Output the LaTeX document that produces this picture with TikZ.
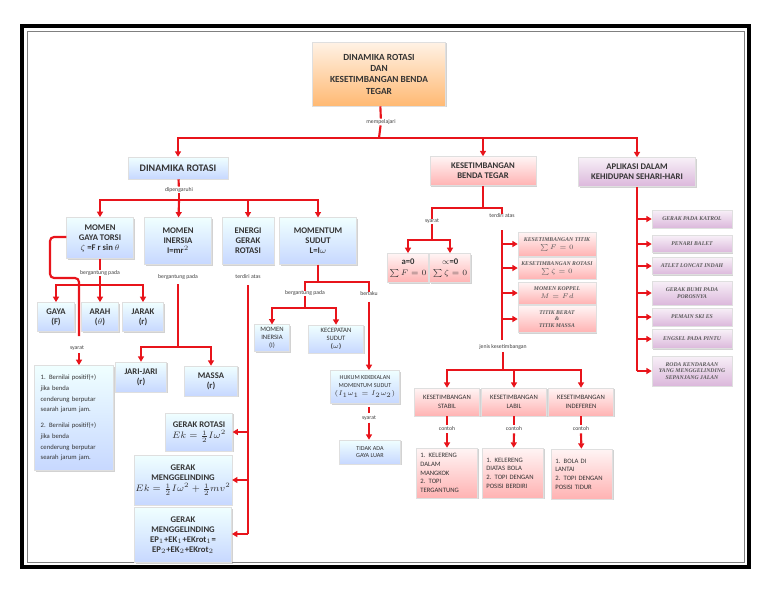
\documentclass[tikz,border=0pt]{standalone}
\usepackage{amsmath}
\usepackage{fontspec}
\setmainfont{Carlito}
\newfontfamily\srf{Liberation Serif}
\usetikzlibrary{arrows.meta,shadows}
\definecolor{rl}{HTML}{E8141B}
\newcommand{\mf}[1]{\normalfont\fontsize{#1}{#1}\selectfont}
\tikzset{
 bb/.style={draw=white!75!gray,line width=0.4pt,align=center,inner sep=1pt,drop shadow={shadow xshift=1pt,shadow yshift=-1pt,opacity=0.35},font=\fontsize{6.5}{7.5}\selectfont\bfseries,text=black!80},
 blue/.style={bb,top color=cyan!6!white,bottom color=cyan!30!blue!22!white},
 pink/.style={bb,top color=red!4!white,bottom color=red!30!white},
 purp/.style={bb,top color=violet!6!white,bottom color=violet!28!white,font=\srf\fontsize{4.3}{5}\selectfont\bfseries\itshape,text=black!65},
 orng/.style={bb,top color=orange!10!white,bottom color=orange!55!white,font=\fontsize{7}{8.5}\selectfont\bfseries},
 lab/.style={font=\fontsize{4.3}{5}\selectfont,text=black!75,inner sep=0.5pt},
 ln/.style={draw=rl,line width=1.6pt},
 ar/.style={ln,-{Triangle[length=4pt,width=4.5pt]}},
}
\begin{document}
\begin{tikzpicture}[x=0.75pt,y=-0.75pt]
\useasboundingbox (0,0) rectangle (768,594);
\fill[white] (0,0) rectangle (768,594);
\draw[line width=2.4pt] (22,26) rectangle (749,567);
\draw[line width=0.5pt,gray] (27,31) rectangle (744,562);
% top
\node[orng,minimum width=100pt,minimum height=48pt] (top) at (379,74) {DINAMIKA ROTASI\\DAN\\KESETIMBANGAN BENDA\\TEGAR};
\node[lab] (mp) at (381,122) {mempelajari};
\node[blue,minimum width=75pt,minimum height=16.5pt,font=\fontsize{7.5}{9}\selectfont\bfseries] (dr) at (178,168) {DINAMIKA ROTASI};
\node[pink,minimum width=79.5pt,minimum height=21.75pt] (kbt) at (483,171) {KESETIMBANGAN\\BENDA TEGAR};
\node[bb,top color=violet!6!white,bottom color=violet!28!white,minimum width=87.75pt,minimum height=21.75pt] (apl) at (637,172) {APLIKASI DALAM\\KEHIDUPAN SEHARI-HARI};
\coordinate (j0) at (379,138);
\draw[ln] (top) -- (mp);
\draw[ln] (mp) -- (j0);
\draw[ar] (j0) -| (dr);
\draw[ar] (j0) -| (kbt);
\draw[ar] (j0) -| (apl);
% dinamika
\node[lab] (dp) at (179,190) {dipengaruhi};
\node[blue,minimum width=50pt,minimum height=31pt] (tor) at (100,238) {MOMEN\\GAYA TORSI\\$\zeta$ =F r sin$\,\theta$};
\node[blue,minimum width=50pt,minimum height=35pt] (ine) at (178,241) {MOMEN\\INERSIA\\I=mr$^2$};
\node[blue,minimum width=39pt,minimum height=35pt] (ene) at (248,241) {ENERGI\\GERAK\\ROTASI};
\node[blue,minimum width=58pt,minimum height=35pt] (mom) at (318,241) {MOMENTUM\\SUDUT\\L=I$\omega$};
\coordinate (j1) at (179,200);
\draw[ln] (dr) -- (dp);
\draw[ln] (dp) -- (j1);
\draw[ar] (j1) -| (tor);
\draw[ar] (j1) -- (ine);
\draw[ar] (j1) -| (ene);
\draw[ar] (j1) -| (mom);
% torsi
\node[lab] (bp1) at (100,273) {bergantung pada};
\node[blue,minimum width=28pt,minimum height=22pt] (gaya) at (56,317) {GAYA\\(F)};
\node[blue,minimum width=28pt,minimum height=22pt] (arah) at (100,317) {ARAH\\($\theta$)};
\node[blue,minimum width=31pt,minimum height=22pt] (jarak) at (143,317) {JARAK\\(r)};
\coordinate (j2) at (100,285);
\draw[ln] (tor) -- (bp1);
\draw[ln] (bp1) -- (j2);
\draw[ar] (j2) -| (gaya);
\draw[ar] (j2) -- (arah);
\draw[ar] (j2) -| (jarak);
\node[lab] (sy1) at (77,348) {syarat};
\node[blue,minimum width=59pt,minimum height=79pt,align=left,font=\fontsize{5}{8}\selectfont,text width=50pt] (syb) at (74,418) {1. Bernilai positif(+)\\jika benda\\cenderung berputar\\searah jarum jam.\\[4pt]2. Bernilai positif(+)\\jika benda\\cenderung berputar\\searah jarum jam.};
\coordinate (t1) at (50,237); \coordinate (t2) at (50,278);
\draw[ln,rounded corners=3pt] (tor.west|-t1) -- (t1) -- (t2) -- (79,278) -- (79,336);
\draw[ar] (sy1.south-|79,0) ++(0,2) -- (syb.north-|79,0);
% inersia
\node[lab] (bp2) at (178,277) {bergantung pada};
\node[blue,minimum width=38pt,minimum height=22.5pt] (jari) at (141,377) {JARI-JARI\\(r)};
\node[blue,minimum width=40pt,minimum height=22.5pt] (mas) at (211,381) {MASSA\\(r)};
\coordinate (j3) at (178,347);
\draw[ln] (bp2) ++(0,7) -- (j3);
\draw[ar] (j3) -| (jari);
\draw[ar] (j3) -| (mas);
% energi
\node[lab] (ta1) at (248,277) {terdiri atas};
\node[blue,minimum width=50pt,minimum height=28.5pt] (gr) at (199,432) {GERAK ROTASI\\[1pt]\mf{7}$Ek=\tfrac{1}{2}I\omega^2$};
\node[blue,minimum width=73pt,minimum height=37.5pt] (gm1) at (183,480) {GERAK\\MENGGELINDING\\[1pt]\mf{7}$Ek=\tfrac{1}{2}I\omega^2+\tfrac{1}{2}mv^2$};
\node[blue,minimum width=73pt,minimum height=41pt] (gm2) at (183,535) {GERAK\\MENGGELINDING\\EP$_1$+EK$_1$+EKrot$_1$=\\EP$_2$+EK$_2$+EKrot$_2$};
\coordinate (e1) at (248,285); \coordinate (e2) at (248,534);
\draw[ln] (e1) -- (e2);
\draw[ar] (gr.east-|e1) -- (gr.east);
\draw[ar] (gm1.east-|e1) -- (gm1.east);
\draw[ar] (e2) -- (gm2.east|-e2);
% momentum
\node[lab] (bp3) at (305,293) {bergantung pada};
\node[lab] (bl) at (369,294) {berlaku};
\coordinate (j4) at (318,282);
\draw[ln] (mom) -- (j4);
\draw[ln] (j4) -| ([yshift=-1pt]bp3.north);
\draw[ln] (j4) -| ([yshift=-1pt]bl.north);
\node[blue,minimum width=26pt,minimum height=20pt,font=\fontsize{5}{6}\selectfont] (mi) at (272,338) {MOMEN\\INERSIA\\(I)};
\node[blue,minimum width=41pt,minimum height=21pt,font=\fontsize{5}{6}\selectfont] (ks) at (336,339) {KECEPATAN\\SUDUT\\\textbf{($\omega$)}};
\coordinate (j5) at (305,308);
\draw[ln] (bp3) -- (j5);
\draw[ar] (j5) -| (mi);
\draw[ar] (j5) -| (ks);
\node[blue,minimum width=52pt,minimum height=25pt,font=\fontsize{4.6}{5.5}\selectfont] (hk) at (365,387) {HUKUM KEKEKALAN\\MOMENTUM SUDUT\\[1pt]\mf{5.5}$(I_1\omega_1=I_2\omega_2)$};
\draw[ar] (bl.south-|369,0) ++(0,5) -- (hk.north-|369,0);
\node[lab] (sy2) at (369,418) {syarat};
\node[blue,minimum width=46pt,minimum height=18pt,font=\fontsize{4.6}{5.5}\selectfont] (tg) at (370,452) {TIDAK ADA\\GAYA LUAR};
\draw[ln] (hk.south-|369,0) ++(0,3) -- ([yshift=1pt]sy2.north-|369,0);
\draw[ar] ([yshift=-1pt]sy2.south-|369,0) -- (tg.north-|369,0);
% kesetimbangan
\node[lab] (sy3) at (432,221) {syarat};
\node[lab] (ta2) at (502,216) {terdiri atas};
\coordinate (j6) at (483,208);
\draw[ln] (kbt) -- (j6);
\draw[ln] (j6) -| ([yshift=-1pt]sy3.north);
\draw[ln] (j6) -| ([yshift=-1pt]ta2.north);
\node[pink,minimum width=31pt,minimum height=22pt] (a0) at (408,268) {a=0\\[1pt]\mf{6}$\textstyle\sum F=0$};
\node[pink,minimum width=31pt,minimum height=22pt] (al0) at (450,268) {$\propto$=0\\[1pt]\mf{6}$\textstyle\sum\zeta=0$};
\coordinate (j7) at (432,240);
\draw[ln] (sy3) -- (j7);
\draw[ar] (j7) -| (a0);
\draw[ar] (j7) -| (al0);
\tikzset{pi/.style={pink,minimum width=58.5pt,font=\srf\fontsize{4.3}{5}\selectfont\bfseries\itshape,text=black!65}}
\node[pi,minimum height=18pt] (k1) at (557,244) {KESETIMBANGAN TITIK\\[1pt]\mf{5}$\textstyle\sum F=0$};
\node[pi,minimum height=16.5pt] (k2) at (557,268) {KESETIMBANGAN ROTASI\\[1pt]\mf{5}$\textstyle\sum\zeta=0$};
\node[pi,minimum height=16.5pt] (k3) at (557,293) {MOMEN KOPPEL\\[1pt]\mf{5}$M=Fd$};
\node[pi,minimum height=20pt] (k4) at (557,319) {TITIK BERAT\\\&\\TITIK MASSA};
\coordinate (v1) at (502,230); \coordinate (v2) at (502,340);
\draw[ln] (v1) -- (v2);
\foreach \k in {k1,k2,k3,k4} \draw[ar] (\k.west-|v1) -- (\k.west);
\node[lab] (jk) at (503,347) {jenis kesetimbangan};
\coordinate (j8) at (503,370);
\draw[ln] ([yshift=-1pt]jk.south) -- (j8);
\tikzset{ps/.style={pink,minimum width=49pt,minimum height=21pt,font=\fontsize{5}{6.5}\selectfont},
 pe/.style={pink,minimum width=46pt,minimum height=37.5pt,font=\fontsize{5}{6.5}\selectfont,align=left,text width=40pt}}
\node[ps] (st) at (447,402) {KESETIMBANGAN\\STABIL};
\node[ps] (lb) at (514,402) {KESETIMBANGAN\\LABIL};
\node[ps] (id) at (581,402) {KESETIMBANGAN\\INDEFEREN};
\draw[ar] (j8) -| (st);
\draw[ar] (j8) -| (lb);
\draw[ar] (j8) -| (id);
\node[pe] (e1n) at (447,473) {1. KELERENG\\DALAM\\MANGKOK\\2. TOPI\\TERGANTUNG};
\node[pe] (e2n) at (513,473) {1. KELERENG\\DIATAS BOLA\\2. TOPI DENGAN\\POSISI BERDIRI};
\node[pe] (e3n) at (582,474) {1. BOLA DI\\LANTAI\\2. TOPI DENGAN\\POSISI TIDUR};
\foreach \a/\b/\c in {st/e1n/c1,lb/e2n/c2,id/e3n/c3}{
 \node[lab] (\c) at (\a.center|-0,429) {contoh};
 \draw[ln] (\a) -- ([yshift=1pt]\c.north);
 \draw[ar] ([yshift=-1pt]\c.south) -- (\b);}
% aplikasi
\node[purp,minimum width=60pt,minimum height=13.5pt] (p1) at (692,219) {GERAK PADA KATROL};
\node[purp,minimum width=60pt,minimum height=13pt] (p2) at (692,244) {PENARI BALET};
\node[purp,minimum width=60pt,minimum height=13pt] (p3) at (692,266) {ATLET LONCAT INDAH};
\node[purp,minimum width=60pt,minimum height=18pt] (p4) at (692,293) {GERAK BUMI PADA\\POROSNYA};
\node[purp,minimum width=60pt,minimum height=13.5pt] (p5) at (692,317) {PEMAIN SKI ES};
\node[purp,minimum width=60pt,minimum height=14pt] (p6) at (692,339) {ENGSEL PADA PINTU};
\node[purp,minimum width=60pt,minimum height=22.5pt] (p7) at (692,371) {RODA KENDARAAN\\YANG MENGGELINDING\\SEPANJANG JALAN};
\coordinate (w1) at (637,371);
\draw[ln] (apl) -- (w1);
\foreach \p in {p1,p2,p3,p4,p5,p6} \draw[ar] (\p.west-|w1) -- (\p.west);
\draw[ar] (w1) -- (p7.west);
\end{tikzpicture}
\end{document}
